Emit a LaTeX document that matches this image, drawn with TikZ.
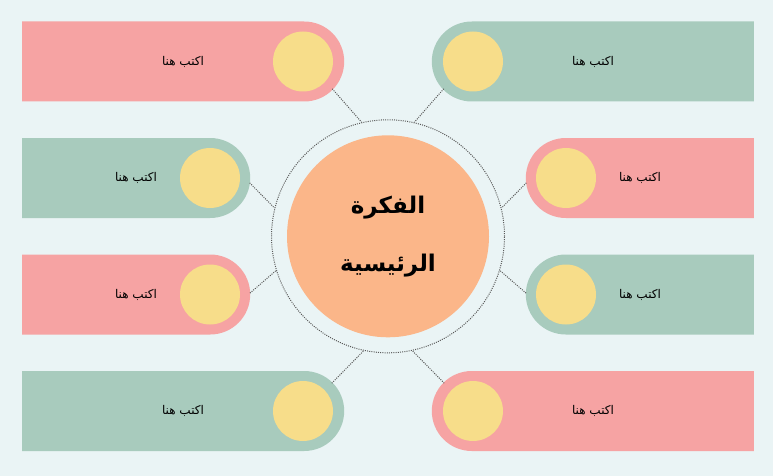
\documentclass[tikz,border=0pt]{standalone}
\usepackage{fontspec}
\newfontfamily\arabicfont[Script=Arabic]{DejaVu Sans}
\TeXXeTstate=1
\usetikzlibrary{shapes.misc}
\definecolor{bgcol}{RGB}{234,244,245}
\definecolor{pinkcol}{RGB}{246,163,163}
\definecolor{greencol}{RGB}{168,203,189}
\definecolor{yellowcol}{RGB}{247,221,138}
\definecolor{orangecol}{RGB}{251,182,137}

\begin{document}
\begin{tikzpicture}[x=1pt,y=-1pt,
  bar node/.style={rounded rectangle,minimum height=80pt,inner sep=0pt,
    font=\arabicfont\fontsize{12}{14}\selectfont},
  left bar/.style={bar node,rounded rectangle west arc=none},
  right bar/.style={bar node,rounded rectangle east arc=none},
  yellow dot/.style={circle,fill=yellowcol,minimum size=60pt,inner sep=0pt,outer sep=10pt},
  link/.style={draw=black!65,dash pattern=on 1pt off 1.2pt,line width=1pt}]

  \fill[bgcol] (0,0) rectangle (773,476);

  \node[circle,link,minimum size=233pt] (ring) at (388,236.3) {};
  \node[circle,fill=orangecol,minimum size=202pt,align=center,
    font=\arabicfont\bfseries\fontsize{23}{58}\selectfont] (main) at (388,236.3)
    {\beginR الفكرة\endR\\\beginR الرئيسية\endR};

  % left side
  \node[left bar,fill=pinkcol,minimum width=322pt] (b1) at (183,61.5) {\beginR اكتب هنا\endR};
  \node[yellow dot] (d1) at (303,61.5) {};
  \node[left bar,fill=greencol,minimum width=228pt] (b2) at (136,178) {\beginR اكتب هنا\endR};
  \node[yellow dot] (d2) at (210,178) {};
  \node[left bar,fill=pinkcol,minimum width=228pt] (b3) at (136,294.5) {\beginR اكتب هنا\endR};
  \node[yellow dot] (d3) at (210,294.5) {};
  \node[left bar,fill=greencol,minimum width=322pt] (b4) at (183,411) {\beginR اكتب هنا\endR};
  \node[yellow dot] (d4) at (303,411) {};

  % right side
  \node[right bar,fill=greencol,minimum width=322pt] (b5) at (593,61.5) {\beginR اكتب هنا\endR};
  \node[yellow dot] (d5) at (473,61.5) {};
  \node[right bar,fill=pinkcol,minimum width=228pt] (b6) at (640,178) {\beginR اكتب هنا\endR};
  \node[yellow dot] (d6) at (566,178) {};
  \node[right bar,fill=greencol,minimum width=228pt] (b7) at (640,294.5) {\beginR اكتب هنا\endR};
  \node[yellow dot] (d7) at (566,294.5) {};
  \node[right bar,fill=pinkcol,minimum width=322pt] (b8) at (593,411) {\beginR اكتب هنا\endR};
  \node[yellow dot] (d8) at (473,411) {};

  \path[every edge/.append style={link}]
  (d1.-43)  edge (ring.103)
  (d2.-7)   edge (ring.166)
  (d3.2)    edge (ring.-163)
  (d4.44)   edge (ring.-102)
  (d5.-137) edge (ring.77)
  (d6.187)  edge (ring.14)
  (d7.178)  edge (ring.-17)
  (d8.136)  edge (ring.-78);
\end{tikzpicture}
\end{document}
